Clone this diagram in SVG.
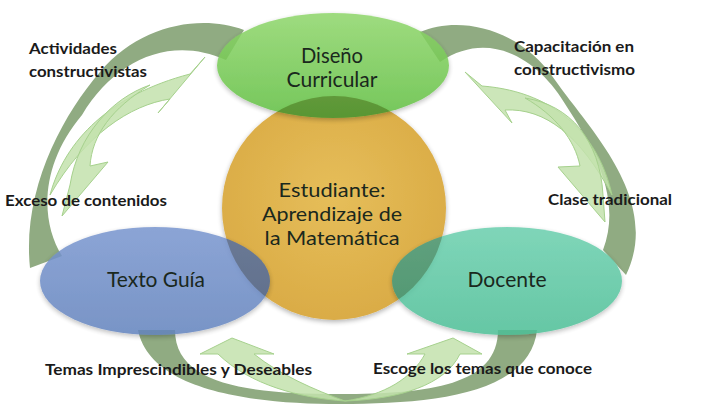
<svg xmlns="http://www.w3.org/2000/svg" width="709" height="413" viewBox="0 0 709 413">
<defs>
<style>
.band{fill:#90ab82;}
.light{fill:#c3e2ad;fill-opacity:.85;stroke:#a6d18d;stroke-width:1;stroke-linejoin:round;}
.ntext{font-family:Lato,"Open Sans","DejaVu Sans",sans-serif;font-size:21px;fill:#1a281d;text-anchor:middle;}
.ctext{font-family:Lato,"Open Sans","DejaVu Sans",sans-serif;font-size:20px;fill:#1a281d;text-anchor:middle;}
.label{font-family:Lato,"Open Sans","DejaVu Sans",sans-serif;font-size:15px;font-weight:bold;fill:#1a1a1a;}
.ov{fill:#000;opacity:.2;}
</style>
<linearGradient id="gGreen" x1="0" y1="0" x2="0" y2="1"><stop offset="0" stop-color="#8fd66b"/><stop offset="1" stop-color="#5fbe40"/></linearGradient>
<linearGradient id="gBlue" x1="0" y1="0" x2="0" y2="1"><stop offset="0" stop-color="#7996cf"/><stop offset="1" stop-color="#6383bd"/></linearGradient>
<linearGradient id="gTeal" x1="0" y1="0" x2="0" y2="1"><stop offset="0" stop-color="#6bcfae"/><stop offset="1" stop-color="#4dbe96"/></linearGradient>
<radialGradient id="gOrange" cx="0.5" cy="0.45" r="0.6"><stop offset="0" stop-color="#e6be5a"/><stop offset="1" stop-color="#d9aa44"/></radialGradient>
<clipPath id="circ"><circle cx="334" cy="208" r="112"/></clipPath>
<filter id="sh" x="-20%" y="-20%" width="140%" height="150%">
<feGaussianBlur in="SourceAlpha" stdDeviation="2.5"/><feOffset dy="2"/>
<feComponentTransfer><feFuncA type="linear" slope="0.3"/></feComponentTransfer>
<feMerge><feMergeNode/><feMergeNode in="SourceGraphic"/></feMerge>
</filter>
</defs>
<rect width="709" height="413" fill="#ffffff"/>

<g id="connectors">
<path class="band" d="M244,30 C200,14 140,25 100,72 C62,116 22,190 30,268 L62,256 C40,220 40,165 82,115 C115,60 170,35 226,60 Z"/>
<path class="band" d="M420,32 C460,15 520,28 555,80 C590,130 662,200 626,275 L603,250 C622,200 595,150 567,107 C540,60 490,28 440,62 Z"/>
<path class="band" d="M138,330 C150,390 250,404 340,404 C430,404 530,395 537,330 L498,330 C498,385 430,394 340,394 C250,394 175,385 175,330 Z"/>
<path class="light" d="M50,195 C65,140 110,95 190,74 L205,57 L158,113 L170,99 C130,105 85,135 50,195 Z"/>
<path class="light" d="M150,85 C112,98 78,135 70,185 L62,216 L108,162 L90,166 C92,135 112,108 150,85 Z"/>
<path class="light" d="M612,195 C600,140 560,92 482,86 L465,72 L512,123 L505,110 C545,108 580,135 612,195 Z"/>
<path class="light" d="M525,98 C570,105 600,140 603,195 L605,222 L558,167 L580,166 C575,140 555,115 525,98 Z"/>
<path class="light" d="M345,401 C300,398 250,385 218,354 L200,354 L232,338 L274,354 L254,354 C280,375 315,390 345,401 Z"/>
<path class="light" d="M345,401 C385,395 412,378 425,354 L407,354 L453,338 L482,354 L460,354 C445,385 400,399 345,401 Z"/>
</g>

<g id="node-estudiante">
<circle cx="334" cy="208" r="112" fill="url(#gOrange)" filter="url(#sh)"/>
</g>
<g id="node-diseno">
<ellipse cx="333" cy="65.5" rx="116" ry="52.5" fill="url(#gGreen)" opacity=".86" filter="url(#sh)"/>
<ellipse class="ov" cx="333" cy="65.5" rx="116" ry="52.5" clip-path="url(#circ)"/>
<text class="ntext" x="332" y="63" textLength="62" lengthAdjust="spacingAndGlyphs">Diseño</text>
<text class="ntext" x="332" y="87" textLength="91" lengthAdjust="spacingAndGlyphs">Curricular</text>
</g>
<g id="node-texto">
<ellipse cx="155" cy="281" rx="115" ry="54" fill="url(#gBlue)" opacity=".86" filter="url(#sh)"/>
<ellipse class="ov" cx="155" cy="281" rx="115" ry="54" clip-path="url(#circ)"/>
<text class="ntext" x="156" y="287" textLength="98" lengthAdjust="spacingAndGlyphs">Texto Guía</text>
</g>
<g id="node-docente">
<ellipse cx="507" cy="281" rx="115" ry="54" fill="url(#gTeal)" opacity=".86" filter="url(#sh)"/>
<ellipse class="ov" cx="507" cy="281" rx="115" ry="54" clip-path="url(#circ)"/>
<text class="ntext" x="507" y="287" textLength="79" lengthAdjust="spacingAndGlyphs">Docente</text>
</g>
<g id="estudiante-text">
<text class="ctext" x="332" y="197" textLength="107" lengthAdjust="spacingAndGlyphs">Estudiante:</text>
<text class="ctext" x="332" y="221" textLength="140" lengthAdjust="spacingAndGlyphs">Aprendizaje de</text>
<text class="ctext" x="332" y="245" textLength="135" lengthAdjust="spacingAndGlyphs">la Matemática</text>
</g>

<g id="labels">
<text class="label" x="29" y="54" textLength="88" lengthAdjust="spacingAndGlyphs">Actividades</text>
<text class="label" x="29" y="77" textLength="118" lengthAdjust="spacingAndGlyphs">constructivistas</text>
<text class="label" x="5" y="206" textLength="162" lengthAdjust="spacingAndGlyphs">Exceso de contenidos</text>
<text class="label" x="514" y="52" textLength="120" lengthAdjust="spacingAndGlyphs">Capacitación en</text>
<text class="label" x="514" y="75" textLength="121" lengthAdjust="spacingAndGlyphs">constructivismo</text>
<text class="label" x="548" y="205" textLength="124" lengthAdjust="spacingAndGlyphs">Clase tradicional</text>
<text class="label" x="45" y="375" textLength="267" lengthAdjust="spacingAndGlyphs">Temas Imprescindibles y Deseables</text>
<text class="label" x="373" y="374" textLength="219" lengthAdjust="spacingAndGlyphs">Escoge los temas que conoce</text>
</g>
</svg>
